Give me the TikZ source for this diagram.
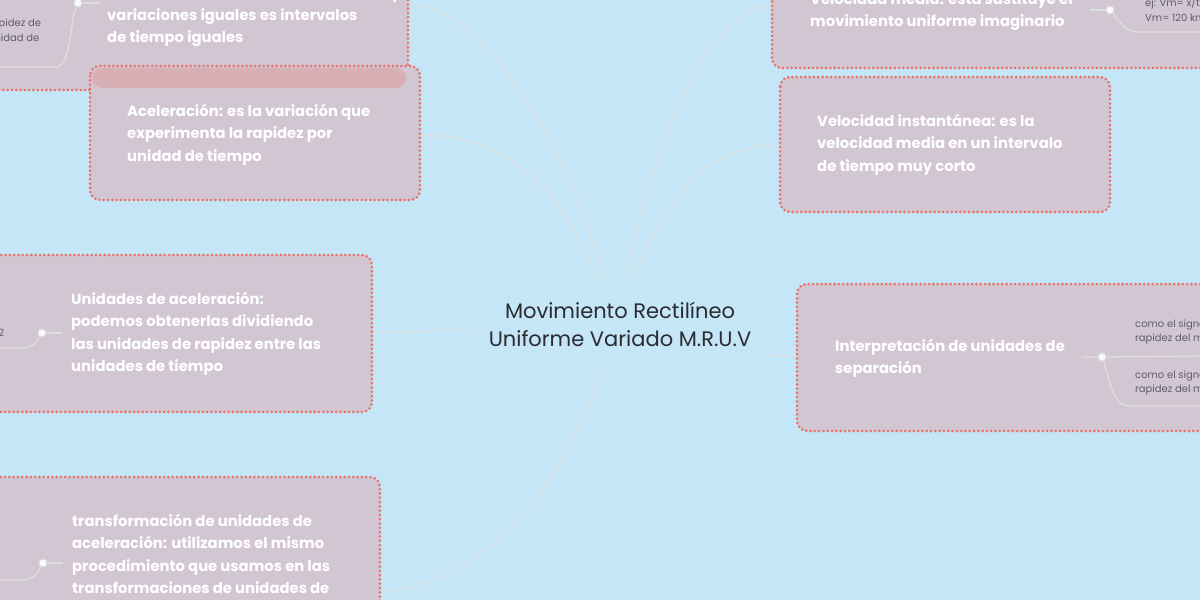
\documentclass[tikz,border=0pt]{standalone}
\usepackage{fontspec}
\setmainfont{Poppins}
\definecolor{bg}{HTML}{C5E6F6}
\definecolor{boxf}{HTML}{D3C6D3}
\definecolor{boxd}{HTML}{E8736B}
\definecolor{lnk}{HTML}{DCDFE2}
\definecolor{sub}{HTML}{5E5E66}
\definecolor{ctr}{HTML}{2B2B33}
\begin{document}
\begin{tikzpicture}[x=1pt,y=-1pt,
  bx/.style={fill=boxf,draw=boxd,line width=3pt,dash pattern=on 0pt off 4.3pt,line cap=round,rounded corners=10pt},
  mt/.style={anchor=north west,align=left,text=white,font=\bfseries\fontsize{14.8}{22.3}\selectfont,inner sep=0pt},
  st/.style={anchor=west,align=left,text=sub,font=\fontsize{10}{14.5}\selectfont,inner sep=0pt},
  lk/.style={draw=lnk,line width=1.3pt},
  dt/.style={circle,fill=white!85!lnk,draw=lnk,line width=1pt,minimum size=8pt,inner sep=0pt}]
\useasboundingbox (0,0) rectangle (1200,600);
\clip (0,0) rectangle (1200,600);
\fill[bg] (0,0) rectangle (1200,600);
% center
\node[align=center,text=ctr,font=\fontsize{21}{28}\selectfont] (c) at (620,324) {Movimiento Rectilíneo\\Uniforme Variado M.R.U.V};
\coordinate (cl) at (470,330);
\coordinate (cr) at (765,354);
% connectors center
\draw[lk] (605,280) .. controls (560,120) and (470,0) .. (408,5);
\draw[lk] (598,282) .. controls (560,180) and (500,135) .. (420,135);
\draw[lk] (cl) -- (372,332);
\draw[lk] (602,368) .. controls (560,500) and (470,590) .. (380,590);
\draw[lk] (625,280) .. controls (660,120) and (710,10) .. (772,5);
\draw[lk] (632,282) .. controls (670,180) and (720,145) .. (780,145);
\draw[lk] (cr) -- (797,357);
% boxes
\draw[bx] (-20,-30) rectangle (408,90);
\draw[bx] (90,66) rectangle (420,200);
\fill[boxd!28!boxf,rounded corners=10pt] (92,68) rectangle (406,88);
\draw[bx] (-20,255) rectangle (372,412);
\draw[bx] (-20,477) rectangle (380,630);
\draw[bx] (772,-30) rectangle (1220,68);
\draw[bx] (780,77) rectangle (1110,212);
\draw[bx] (797,284) rectangle (1220,431);
% texts
\node[mt] (t1) at (107,-14) {Movimiento uniformemente variado: presenta\\variaciones iguales es intervalos\\de tiempo iguales};
\node[mt] (t2) at (127,104) {Aceleración: es la variación que\\experimenta la rapidez por\\unidad de tiempo};
\node[mt] (t3) at (71,292) {Unidades de aceleración:\\podemos obtenerlas dividiendo\\las unidades de rapidez entre las\\unidades de tiempo};
\node[mt] (t4) at (72,514) {transformación de unidades de\\aceleración: utilizamos el mismo\\procedimiento que usamos en las\\transformaciones de unidades de\\rapidez};
\node[mt] (t5) at (810,-8) {Velocidad media: esta sustituye el\\movimiento uniforme imaginario};
\node[mt] (t6) at (817,114) {Velocidad instantánea: es la\\velocidad media en un intervalo\\de tiempo muy corto};
\node[mt] (t7) at (835,339) {Interpretación de unidades de\\separación};
% sub branches
\node[dt] (d1) at (78,3) {};
\draw[lk] (d1) -- (100,3);
\draw[lk] (d1) .. controls (70,20) and (72,67) .. (55,67) -- (-5,67);
\node[st] (s1) at (-12,30) {rapidez de\\unidad de};
\node[dt] (d3) at (42,333) {};
\draw[lk] (d3) -- (62,333);
\draw[lk] (d3) .. controls (35,345) and (30,348) .. (20,348) -- (-5,348);
\node[st] (s3) at (-22,333) {m/s2};
\node[dt] (d4) at (43,563) {};
\draw[lk] (d4) -- (63,563);
\draw[lk] (d4) .. controls (35,578) and (30,580) .. (20,580) -- (-5,580);
\node[st] (s4) at (-25,557) {por};
\node[dt] (d5) at (1110,10) {};
\draw[lk] (1090,10) -- (d5);
\draw[lk] (d5) .. controls (1120,22) and (1125,32) .. (1140,32) -- (1210,32);
\node[st] (s5) at (1145,10) {ej: Vm= x/t\\Vm= 120 km/h};
\node[dt] (d7) at (1102,357) {};
\draw[lk] (1082,357) -- (d7) -- (1210,356);
\draw[lk] (d7) .. controls (1110,380) and (1112,406) .. (1130,406) -- (1210,406);
\node[st] (s7a) at (1135,332) {como el signo\\rapidez del movil};
\node[st] (s7b) at (1135,383) {como el signo\\rapidez del movil};
\end{tikzpicture}
\end{document}
